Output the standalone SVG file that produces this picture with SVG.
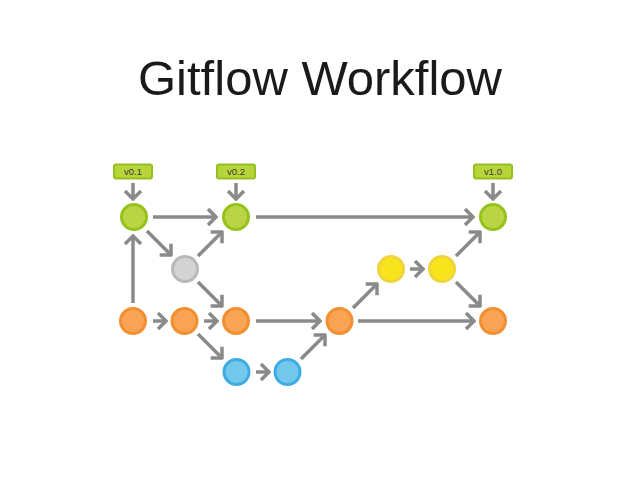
<svg xmlns="http://www.w3.org/2000/svg" width="638" height="479" viewBox="0 0 638 479">
<style>
.t{font-family:"Liberation Sans",Arial,sans-serif;}
.title{font-size:49px;fill:#1a1a1a;}
.tag rect{fill:#b7d43b;stroke:#93c01f;stroke-width:2;}
.tag text{font-size:9.5px;fill:#3a3a3a;text-anchor:middle;}
.g{fill:#bad446;stroke:#95c21b;stroke-width:3;}
.o{fill:#f9a355;stroke:#f28f30;stroke-width:3;}
.b{fill:#72c9ec;stroke:#40ace3;stroke-width:3;}
.y{fill:#f8e41c;stroke:#f0d43c;stroke-width:3;}
.gr{fill:#d3d3d3;stroke:#b9b9b9;stroke-width:3;}
.c line{stroke:#8a8a8a;stroke-width:3.5;marker-end:url(#ah);}
</style>
<defs>
<marker id="ah" markerUnits="userSpaceOnUse" viewBox="-12 -10 14 20" refX="0" refY="0" markerWidth="14" markerHeight="20" orient="auto">
<path d="M-8,-8 L0,0 L-8,8" fill="none" stroke="#8a8a8a" stroke-width="3.5" stroke-linejoin="miter"/>
</marker>
</defs>
<rect width="638" height="479" fill="#fff"/>
<text class="t title" x="138" y="95" textLength="364" lengthAdjust="spacingAndGlyphs">Gitflow Workflow</text>
<g class="c" id="connectors">
<line x1="133" y1="183" x2="133" y2="199"/>
<line x1="236" y1="183" x2="236" y2="199"/>
<line x1="493" y1="183" x2="493" y2="199"/>
<line x1="153" y1="217" x2="216" y2="217"/>
<line x1="256" y1="217" x2="473" y2="217"/>
<line x1="147" y1="231" x2="171" y2="255"/>
<line x1="198" y1="256" x2="222" y2="232"/>
<line x1="198" y1="282" x2="222" y2="306"/>
<line x1="133" y1="303" x2="133" y2="236"/>
<line x1="153" y1="321" x2="166" y2="321"/>
<line x1="204" y1="321" x2="217" y2="321"/>
<line x1="256" y1="321" x2="320" y2="321"/>
<line x1="198" y1="334" x2="222" y2="358"/>
<line x1="256" y1="372" x2="269" y2="372"/>
<line x1="301" y1="359" x2="325" y2="335"/>
<line x1="353" y1="308" x2="377" y2="284"/>
<line x1="410" y1="269" x2="423" y2="269"/>
<line x1="456" y1="256" x2="480" y2="232"/>
<line x1="456" y1="282" x2="480" y2="306"/>
<line x1="358" y1="321" x2="474" y2="321"/>
</g>
<g id="tag-v01" class="tag"><rect x="114" y="164.5" width="38" height="14" rx="2"/><text class="t" x="133" y="174.5">v0.1</text></g>
<g id="tag-v02" class="tag"><rect x="217" y="164.5" width="38" height="14" rx="2"/><text class="t" x="236" y="174.5">v0.2</text></g>
<g id="tag-v10" class="tag"><rect x="474" y="164.5" width="38" height="14" rx="2"/><text class="t" x="493" y="174.5">v1.0</text></g>
<g id="m1"><circle class="g" cx="134" cy="217" r="12.5"/></g>
<g id="m2"><circle class="g" cx="236" cy="217" r="12.5"/></g>
<g id="m3"><circle class="g" cx="493" cy="217" r="12.5"/></g>
<g id="h1"><circle class="gr" cx="185" cy="269" r="12.5"/></g>
<g id="d1"><circle class="o" cx="133" cy="321" r="12.5"/></g>
<g id="d2"><circle class="o" cx="184.5" cy="321" r="12.5"/></g>
<g id="d3"><circle class="o" cx="236" cy="321" r="12.5"/></g>
<g id="d4"><circle class="o" cx="339.5" cy="321" r="12.5"/></g>
<g id="d5"><circle class="o" cx="493" cy="321" r="12.5"/></g>
<g id="f1"><circle class="b" cx="236.5" cy="372" r="12.5"/></g>
<g id="f2"><circle class="b" cx="287.5" cy="372" r="12.5"/></g>
<g id="r1"><circle class="y" cx="391" cy="269" r="12.5"/></g>
<g id="r2"><circle class="y" cx="442" cy="269" r="12.5"/></g>
</svg>
